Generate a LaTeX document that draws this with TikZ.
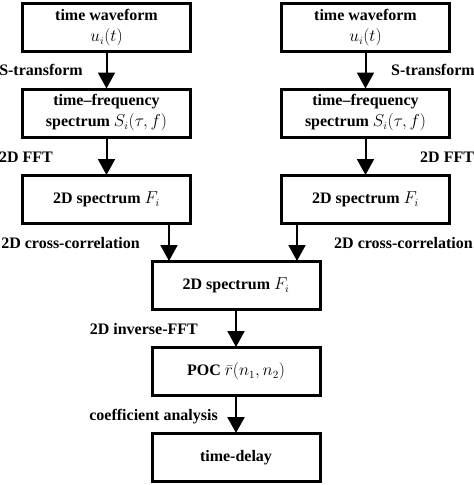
\documentclass[tikz,border=0pt]{standalone}
\usepackage{fontspec}
\setmainfont{Liberation Serif}
\usetikzlibrary{arrows.meta}
\begin{document}
\begin{tikzpicture}[x=1pt,y=-1pt,
  box/.style={draw,line width=3pt,minimum width=168pt,minimum height=48pt,align=center,inner sep=2pt,
    font=\fontsize{16}{21}\selectfont\bfseries},
  arr/.style={line width=2pt,-{Triangle[length=16pt,width=17pt]},shorten >=-1pt},
  lab/.style={inner sep=0pt,font=\fontsize{16}{19}\selectfont\bfseries}]
\useasboundingbox (0,0) rectangle (474,485);
% left column
\node[box] (l1) at (106.5,27.5) {time waveform\\$u_i(t)$};
\node[box] (l2) at (106.5,113) {time--frequency\\spectrum $S_i(\tau,f)$};
\node[box] (l3) at (106.5,199.5) {2D spectrum $F_i$};
% right column
\node[box] (r1) at (365.5,27.5) {time waveform\\$u_i(t)$};
\node[box] (r2) at (365.5,113) {time--frequency\\spectrum $S_i(\tau,f)$};
\node[box] (r3) at (365.5,199.5) {2D spectrum $F_i$};
% middle column
\node[box] (m1) at (236,285.5) {2D spectrum $F_i$};
\node[box] (m2) at (236,371.5) {POC $\bar{r}(n_1,n_2)$};
\node[box] (m3) at (236,457.5) {time-delay};
% arrows
\draw[arr] (l1) -- (l2);
\draw[arr] (l2) -- (l3);
\draw[arr] (r1) -- (r2);
\draw[arr] (r2) -- (r3);
\draw[arr] ([xshift=62.5pt]l3.south) -- ([xshift=62.5pt]l3.south |- m1.north);
\draw[arr] ([xshift=-68.5pt]r3.south) -- ([xshift=-68.5pt]r3.south |- m1.north);
\draw[arr] (m1) -- (m2);
\draw[arr] (m2) -- (m3);
% labels
\node[lab,anchor=base east] (ls1) at (83,75) {S-transform};
\node[lab,anchor=base west] (rs1) at (391,75) {S-transform};
\node[lab,anchor=base east] (ls2) at (53,162.5) {2D FFT};
\node[lab,anchor=base west] (rs2) at (420,162.5) {2D FFT};
\node[lab,anchor=base east] (ls3) at (140,248) {2D cross-correlation};
\node[lab,anchor=base west] (rs3) at (334,248) {2D cross-correlation};
\node[lab,anchor=base east] (ms1) at (198,334) {2D inverse-FFT};
\node[lab,anchor=base east] (ms2) at (218,420) {coefficient analysis};
\end{tikzpicture}
\end{document}
